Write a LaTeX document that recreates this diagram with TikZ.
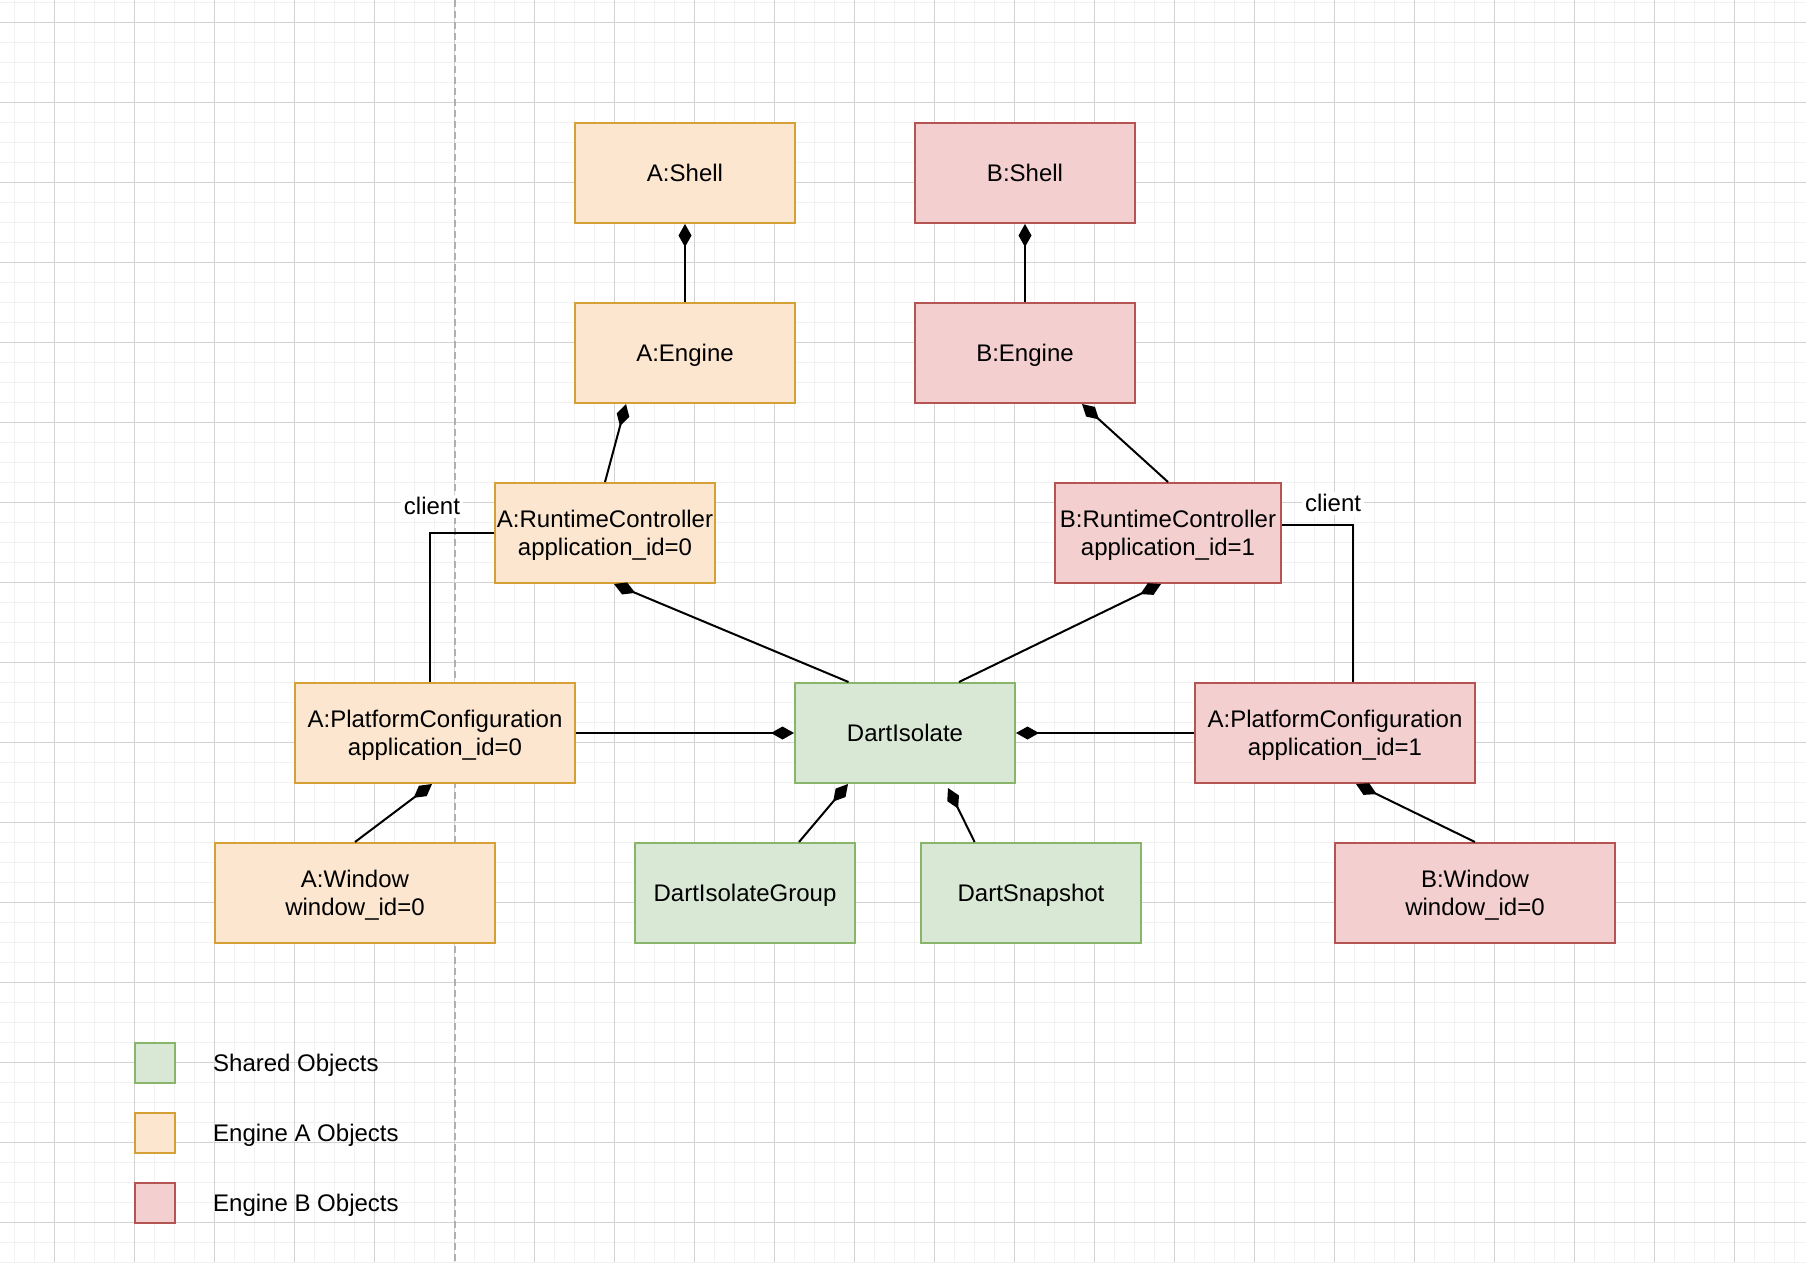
\documentclass[tikz,border=0pt]{standalone}
\usepackage{fontspec}
\setmainfont{Liberation Sans}
\usetikzlibrary{arrows.meta}
\definecolor{ofill}{HTML}{FCE6CF}
\definecolor{ostroke}{HTML}{D5A035}
\definecolor{gfill}{HTML}{D9E8D5}
\definecolor{gstroke}{HTML}{89B46C}
\definecolor{rfill}{HTML}{F3D0CF}
\definecolor{rstroke}{HTML}{B55553}
\definecolor{gridmaj}{HTML}{D3D3D3}
\definecolor{gridmin}{HTML}{F1F1F1}
\definecolor{sepline}{HTML}{B0B0B0}
\begin{document}
\begin{tikzpicture}[x=1pt,y=-1pt,
  txt/.style={font=\fontsize{24}{28}\selectfont},
  one/.style={text height=17pt, text depth=0pt},
  two/.style={text height=45pt, text depth=0pt},
  box/.style={draw, line width=2pt, minimum height=100pt, minimum width=220pt, inner sep=0pt, align=center, txt, one},
  abox/.style={box, fill=ofill, draw=ostroke},
  bbox/.style={box, fill=rfill, draw=rstroke},
  sbox/.style={box, fill=gfill, draw=gstroke},
  comp/.style={line width=2pt, -{Diamond[length=23pt,width=13pt]}},
  plain/.style={line width=2pt},
  lbl/.style={fill=white, inner sep=3pt, txt, one},
  legtxt/.style={anchor=west, inner sep=0pt, txt, one}
]
\useasboundingbox (0,0) rectangle (1806,1262);
\fill[white] (0,0) rectangle (1806,1262);
% grid
\foreach \i in {0,...,90} { \draw[gridmin, line width=1pt] ({14.3+20*\i},0) -- ({14.3+20*\i},1262); }
\foreach \i in {0,...,63} { \draw[gridmin, line width=1pt] (0,{2.3+20*\i}) -- (1806,{2.3+20*\i}); }
\foreach \i in {0,...,22} { \draw[gridmaj, line width=1pt] ({54.3+80*\i},0) -- ({54.3+80*\i},1262); }
\foreach \i in {0,...,15} { \draw[gridmaj, line width=1pt] (0,{22.3+80*\i}) -- (1806,{22.3+80*\i}); }
\draw[sepline, line width=1.3pt, dash pattern=on 7pt off 4pt] (455,0) -- (455,1262);

% nodes
\node[abox] (ashell) at (685,173) {A:Shell};
\node[abox] (aengine) at (685,353) {A:Engine};
\node[bbox] (bshell) at (1025,173) {B:Shell};
\node[bbox] (bengine) at (1025,353) {B:Engine};
\node[abox, two] (arc) at (605,533) {A:RuntimeController\\application\_id=0};
\node[bbox, two, minimum width=226pt] (brc) at (1168,533) {B:RuntimeController\\application\_id=1};
\node[abox, two, minimum width=280pt] (apc) at (435,733) {A:PlatformConfiguration\\application\_id=0};
\node[sbox] (dart) at (905,733) {DartIsolate};
\node[bbox, two, minimum width=280pt] (bpc) at (1335,733) {A:PlatformConfiguration\\application\_id=1};
\node[abox, two, minimum width=280pt] (awin) at (355,893) {A:Window\\window\_id=0};
\node[sbox] (dig) at (745,893) {DartIsolateGroup};
\node[sbox] (dsnap) at (1031,893) {DartSnapshot};
\node[bbox, two, minimum width=280pt] (bwin) at (1475,893) {B:Window\\window\_id=0};

% connectors
\draw[comp] (aengine.north) -- (ashell.south);
\draw[comp] (bengine.north) -- (bshell.south);
\draw[comp] (arc.north) -- ([xshift=52pt]aengine.south west);
\draw[comp] (brc.north) -- ([xshift=168pt]bengine.south west);
\draw[comp] ([xshift=54.5pt]dart.north west) -- ([xshift=120pt]arc.south west);
\draw[comp] ([xshift=165pt]dart.north west) -- ([xshift=107pt]brc.south west);
\draw[comp] (apc.east) -- (dart.west);
\draw[comp] (bpc.west) -- (dart.east);
\draw[comp] (awin.north) -- ([xshift=138pt]apc.south west);
\draw[comp] ([xshift=165pt]dig.north west) -- ([xshift=54pt]dart.south west);
\draw[comp] ([xshift=54.6pt]dsnap.north west) -- ([xshift=154pt,yshift=-4pt]dart.south west);
\draw[comp] (bwin.north) -- ([xshift=162pt]bpc.south west);
\draw[plain] (arc.west) -| ([xshift=136pt]apc.north west);
\draw[plain] ([yshift=8pt]brc.east) -| ([xshift=159.4pt]bpc.north west);
\node[lbl] (cl1) at (432,506) {client};
\node[lbl] (cl2) at (1333,503) {client};

% legend
\node[sbox, minimum width=40pt, minimum height=40pt] (lg1) at (155,1063) {};
\node[abox, minimum width=40pt, minimum height=40pt] (lg2) at (155,1133) {};
\node[bbox, minimum width=40pt, minimum height=40pt] (lg3) at (155,1203) {};
\node[legtxt] (lt1) at (213,1063) {Shared Objects};
\node[legtxt] (lt2) at (213,1133) {Engine A Objects};
\node[legtxt] (lt3) at (213,1203) {Engine B Objects};
\end{tikzpicture}
\end{document}
